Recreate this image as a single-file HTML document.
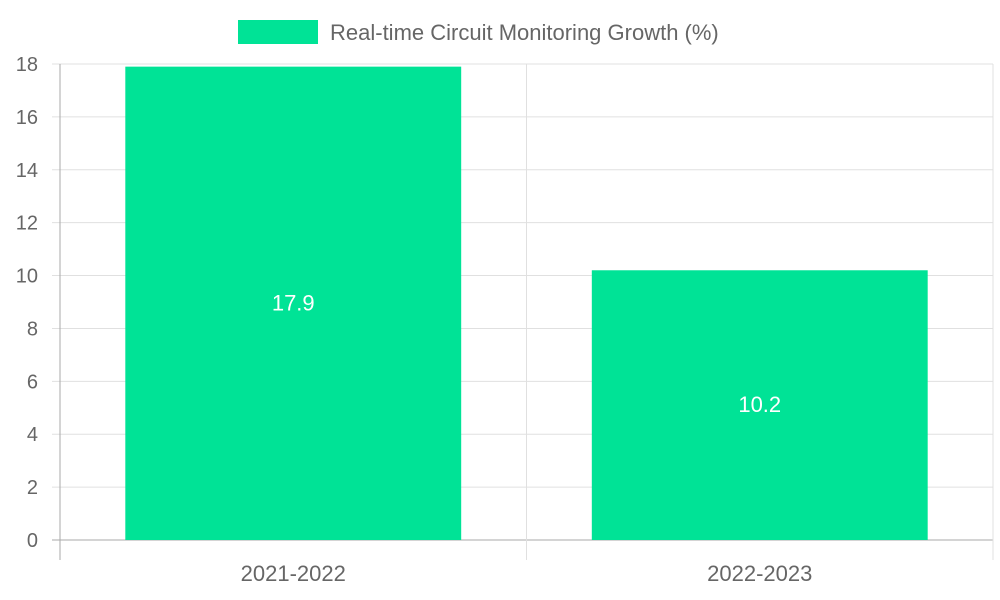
<!DOCTYPE html>
<html><head><meta charset="utf-8"><style>
body{margin:0;background:#fff;}
svg{display:block;font-family:"Liberation Sans",sans-serif;}
</style></head><body>
<svg id="c" width="1000" height="600">
<g>
<rect x="238" y="20" width="80" height="24" fill="#00e396"></rect>
<text x="330" y="40" font-size="22" fill="#666">Real-time Circuit Monitoring Growth (%)</text>
</g>
<g id="grid"></g>
<g id="bars"></g>
<g id="axes"></g>
</svg>
<script>
const categories=["2021-2022","2022-2023"];
const values=[17.9,10.2];
const yTicks=[0,2,4,6,8,10,12,14,16,18];
const NS="http://www.w3.org/2000/svg";
const L=60,R=993,T=64,B=540,yMax=18;
const y=v=>B-(v/yMax)*(B-T);
const cw=(R-L)/categories.length;
const x=i=>L+cw*i;
function mk(p,t,a){const e=document.createElementNS(NS,t);for(const k in a)e.setAttribute(k,a[k]);p.appendChild(e);return e;}
const grid=document.getElementById('grid'),bars=document.getElementById('bars'),axes=document.getElementById('axes');
yTicks.forEach(t=>{
  const l=mk(grid,'line',{x1:52,x2:R,y1:y(t),y2:y(t),stroke:t===0?'#aaa':'#e0e0e0','stroke-width':1});
  
  
  const tx=mk(axes,'text',{x:38,y:y(t)+7,'text-anchor':'end','font-size':20,fill:'#666'});
  tx.textContent=t;
  
  
});
for(let i=0;i<=categories.length;i++){
  const l=mk(grid,'line',{x1:x(i),x2:x(i),y1:T,y2:560,stroke:i===0?'#aaa':'#e0e0e0','stroke-width':1});
  
  
}
categories.forEach((c,i)=>{
  const bw=cw*0.72,bx=x(i)+(cw-bw)/2;
  const r=mk(bars,'rect',{x:bx,y:y(values[i]),width:bw,height:B-y(values[i]),fill:'#00e396'});
  
  
  const v=mk(bars,'text',{x:bx+bw/2,y:(y(values[i])+B)/2+7,'text-anchor':'middle','font-size':22,fill:'#fff'});
  v.textContent=values[i];
  
  
  const t=mk(axes,'text',{x:x(i)+cw/2,y:581,'text-anchor':'middle','font-size':22,fill:'#666'});
  t.textContent=c;
  
  
});
</script>
</body></html>
